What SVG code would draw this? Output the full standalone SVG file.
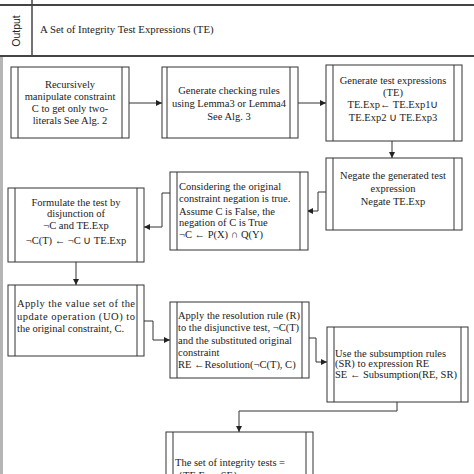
<svg xmlns="http://www.w3.org/2000/svg" width="474" height="474" viewBox="0 0 474 474">
<style>
.box{fill:#fff;stroke:#333;stroke-width:1}
.inner{stroke:#333;stroke-width:1}
.t{font-family:"Liberation Serif","Times New Roman",serif;font-size:10.5px;fill:#222}
.c{text-anchor:middle}
.conn{fill:none;stroke:#333;stroke-width:1}
</style>
<defs>
<marker id="ah" markerUnits="userSpaceOnUse" markerWidth="6" markerHeight="6" refX="6" refY="3" orient="auto">
<path d="M0,0 L6,3 L0,6 z" fill="#222"/>
</marker>
</defs>
<rect x="0" y="0" width="474" height="474" fill="#fff"/>
<g id="header">
<line x1="32" y1="0" x2="32" y2="56" stroke="#444" stroke-width="1.5"/>
<line x1="0" y1="5" x2="474" y2="5" stroke="#444" stroke-width="2"/>
<line x1="0" y1="56" x2="474" y2="56" stroke="#444" stroke-width="2"/>
<text transform="translate(20,31) rotate(-90)" text-anchor="middle" style="font-family:'Liberation Sans',Arial,sans-serif;font-size:10.5px;fill:#222">Output</text>
<text class="t" x="40" y="33" style="font-size:10.8px">A Set of Integrity Test Expressions (TE)</text>
<rect x="0" y="57" width="3" height="417" fill="#b5b5b5"/>
</g>
<g id="connectors">
<line class="conn" x1="129" y1="103" x2="162" y2="103" marker-end="url(#ah)"/>
<line class="conn" x1="298" y1="103" x2="326" y2="103" marker-end="url(#ah)"/>
<line class="conn" x1="392" y1="141" x2="392" y2="158" marker-end="url(#ah)"/>
<polyline class="conn" points="326,192 318,192 318,211 307,211" marker-end="url(#ah)"/>
<polyline class="conn" points="170,193 162,193 162,227 144,227" marker-end="url(#ah)"/>
<line class="conn" x1="76" y1="262" x2="76" y2="285" marker-end="url(#ah)"/>
<polyline class="conn" points="144,321 153,321 153,340 170,340" marker-end="url(#ah)"/>
<polyline class="conn" points="309,338 316,338 316,362 327,362" marker-end="url(#ah)"/>
<polyline class="conn" points="397,402 397,411 239,411 239,432" marker-end="url(#ah)"/>
</g>
<g id="n1">
<rect class="box" x="11" y="67" width="118" height="71"/>
<line class="inner" x1="18" y1="67" x2="18" y2="138"/><line class="inner" x1="122" y1="67" x2="122" y2="138"/>
<text class="t c" x="70" y="88">Recursively</text>
<text class="t c" x="70" y="100">manipulate constraint</text>
<text class="t c" x="70" y="112">C  to get only two-</text>
<text class="t c" x="70" y="124">literals See Alg. 2</text>
</g>
<g id="n2">
<rect class="box" x="162" y="67" width="136" height="71"/>
<line class="inner" x1="167" y1="67" x2="167" y2="138"/><line class="inner" x1="290" y1="67" x2="290" y2="138"/>
<text class="t c" x="229" y="94">Generate checking rules</text>
<text class="t c" x="229" y="107">using Lemma3 or Lemma4</text>
<text class="t c" x="229" y="120">See Alg. 3</text>
</g>
<g id="n3">
<rect class="box" x="326" y="65" width="136" height="76"/>
<line class="inner" x1="333" y1="65" x2="333" y2="141"/><line class="inner" x1="454" y1="65" x2="454" y2="141"/>
<text class="t c" x="393" y="84">Generate test expressions</text>
<text class="t c" x="393" y="96">(TE)</text>
<text class="t c" x="393" y="108">TE.Exp← TE.Exp1∪</text>
<text class="t c" x="393" y="121">TE.Exp2 ∪ TE.Exp3</text>
</g>
<g id="n4">
<rect class="box" x="326" y="158" width="136" height="72"/>
<line class="inner" x1="333" y1="158" x2="333" y2="230"/><line class="inner" x1="454" y1="158" x2="454" y2="230"/>
<text class="t c" x="393" y="179">Negate the generated test</text>
<text class="t c" x="393" y="192">expression</text>
<text class="t c" x="393" y="205">Negate TE.Exp</text>
</g>
<g id="n5">
<rect class="box" x="170" y="172" width="138" height="78"/>
<line class="inner" x1="177" y1="172" x2="177" y2="250"/><line class="inner" x1="300" y1="172" x2="300" y2="250"/>
<text class="t" x="179" y="190">Considering the original</text>
<text class="t" x="179" y="202">constraint negation is true.</text>
<text class="t" x="179" y="215"> Assume C is False, the</text>
<text class="t" x="179" y="226">negation of C is True</text>
<text class="t" x="179" y="238">¬C ← P(X) ∩ Q(Y)</text>
</g>
<g id="n6">
<rect class="box" x="8" y="188" width="136" height="74"/>
<line class="inner" x1="15" y1="188" x2="15" y2="262"/><line class="inner" x1="137" y1="188" x2="137" y2="262"/>
<text class="t c" x="76" y="206">Formulate the test by</text>
<text class="t c" x="76" y="217">disjunction of</text>
<text class="t c" x="76" y="229">¬C and TE.Exp</text>
<text class="t c" x="76" y="244">¬C(T) ← ¬C ∪ TE.Exp</text>
</g>
<g id="n7">
<rect class="box" x="8" y="285" width="136" height="71"/>
<line class="inner" x1="15" y1="285" x2="15" y2="356"/><line class="inner" x1="137" y1="285" x2="137" y2="356"/>
<text class="t" x="17" y="307" textLength="118" lengthAdjust="spacing">Apply the value set of the</text>
<text class="t" x="17" y="320" textLength="118" lengthAdjust="spacing">update operation (UO) to</text>
<text class="t" x="17" y="332">the original constraint, C.</text>
</g>
<g id="n8">
<rect class="box" x="170" y="302" width="139" height="76"/>
<line class="inner" x1="177" y1="302" x2="177" y2="378"/><line class="inner" x1="302" y1="302" x2="302" y2="378"/>
<text class="t" x="178" y="319">Apply the resolution rule (R)</text>
<text class="t" x="178" y="331">to the disjunctive test, ¬C(T)</text>
<text class="t" x="178" y="344">and the substituted original</text>
<text class="t" x="178" y="356">constraint</text>
<text class="t" x="178" y="368">RE ←Resolution(¬C(T), C)</text>
</g>
<g id="n9">
<rect class="box" x="327" y="327" width="141" height="75"/>
<line class="inner" x1="334" y1="327" x2="334" y2="402"/><line class="inner" x1="461" y1="327" x2="461" y2="402"/>
<text class="t" x="335" y="357">Use the subsumption rules</text>
<text class="t" x="335" y="367">(SR) to expression RE</text>
<text class="t" x="335" y="378">SE ← Subsumption(RE, SR)</text>
</g>
<g id="n10">
<rect class="box" x="166" y="432" width="147" height="60"/>
<line class="inner" x1="173" y1="432" x2="173" y2="492"/><line class="inner" x1="306" y1="432" x2="306" y2="492"/>
<text class="t" x="175" y="466">The set of integrity tests =</text>
<text class="t" x="178" y="479">{TE.Exp, SE}</text>
</g>
</svg>
